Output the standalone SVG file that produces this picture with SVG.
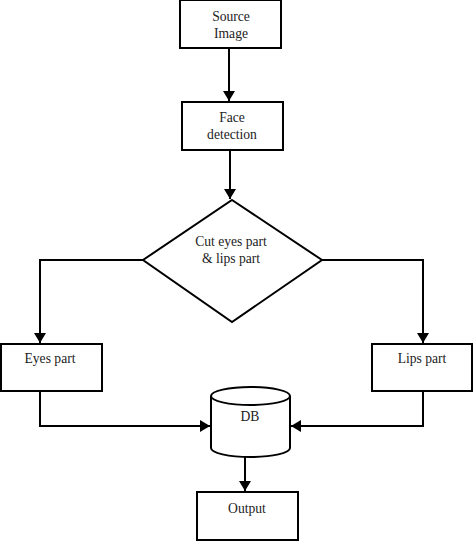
<svg xmlns="http://www.w3.org/2000/svg" width="474" height="543" viewBox="0 0 474 543">
<defs>
<marker id="arr" markerWidth="10" markerHeight="12" refX="10" refY="6" orient="auto" markerUnits="userSpaceOnUse" viewBox="0 0 10 12">
<path d="M0,0 L10,6 L0,12 Z" fill="#000"/>
</marker>
</defs>
<style>
.box{fill:#fff;stroke:#000;stroke-width:2}
.t{font-family:"Liberation Serif","Times New Roman",serif;font-size:13.6px;fill:#222;text-anchor:middle}
.c{fill:none;stroke:#000;stroke-width:2;marker-end:url(#arr)}
</style>
<rect width="474" height="543" fill="#fff"/>
<g id="connectors">
<path class="c" d="M229,48 V101"/>
<path class="c" d="M230,150 V199"/>
<path class="c" d="M143,260 H40 V343"/>
<path class="c" d="M322,260 H423 V343"/>
<path class="c" d="M40,391 V426 H210"/>
<path class="c" d="M423,391 V426 H291"/>
<path class="c" d="M245,457 V491"/>
</g>
<g id="source">
<rect class="box" x="180" y="0" width="101" height="48"/>
<text class="t" x="231" y="21">Source</text>
<text class="t" x="231" y="38">Image</text>
</g>
<g id="face">
<rect class="box" x="182" y="102" width="101" height="48"/>
<text class="t" x="232" y="122">Face</text>
<text class="t" x="232" y="139">detection</text>
</g>
<g id="cut">
<polygon class="box" points="232,200 322,260 232,322 143,260"/>
<text class="t" x="231" y="246">Cut eyes part</text>
<text class="t" x="231" y="263">&amp; lips part</text>
</g>
<g id="eyes">
<rect class="box" x="1" y="344" width="101" height="47"/>
<text class="t" x="50" y="363">Eyes part</text>
</g>
<g id="lips">
<rect class="box" x="372" y="344" width="100" height="47"/>
<text class="t" x="422" y="363">Lips part</text>
</g>
<g id="db">
<path class="box" d="M211,396 A39.5,9 0 0 1 290,396 V448 A39.5,9 0 0 1 211,448 Z"/>
<path d="M211,396 A39.5,9 0 0 0 290,396" fill="none" stroke="#000" stroke-width="2"/>
<text class="t" x="250" y="421">DB</text>
</g>
<g id="output">
<rect class="box" x="197" y="492" width="101" height="48"/>
<text class="t" x="247" y="513">Output</text>
</g>
</svg>
